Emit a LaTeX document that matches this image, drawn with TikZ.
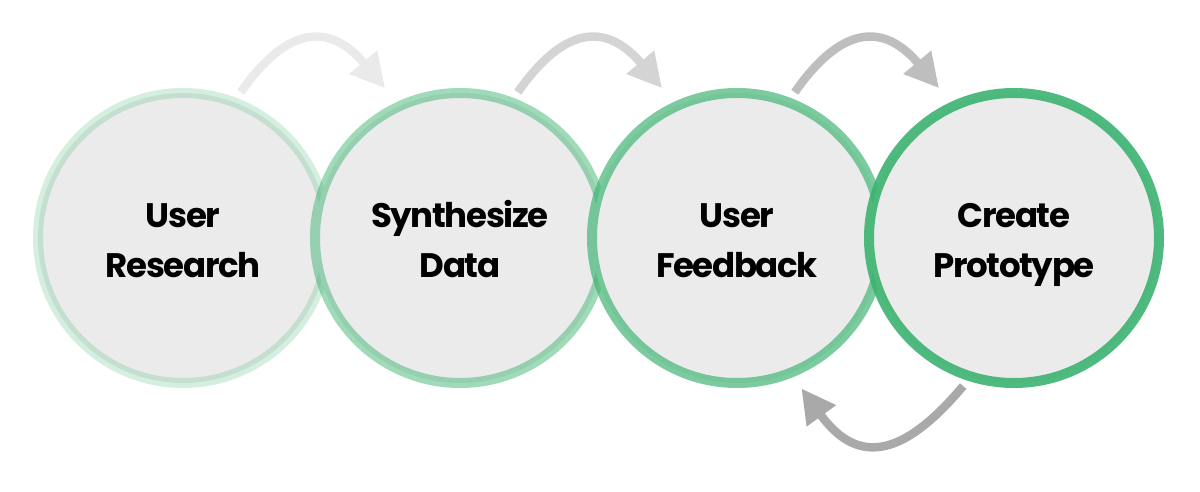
\documentclass[tikz,border=0pt]{standalone}
\usepackage{fontspec}
\setmainfont{Poppins}[LetterSpace=-4]
\usetikzlibrary{positioning,arrows.meta}

\definecolor{ringgreen}{HTML}{3CB371}
\definecolor{disc}{HTML}{EBEBEB}
\definecolor{arrowA}{HTML}{EAEAEA}
\definecolor{arrowB}{HTML}{D4D4D4}
\definecolor{arrowC}{HTML}{BEBEBE}
\definecolor{arrowD}{HTML}{A9A9A9}

\begin{document}
\begin{tikzpicture}[
  x=1pt, y=1pt,
  font=\bfseries\fontsize{34}{50}\selectfont,
  stage/.style={circle, fill=disc, draw=ringgreen, line width=10pt, minimum size=290pt, inner sep=0pt, align=center, text=black, text height=80pt, text depth=2pt},
  flow/.style={-{Triangle[length=34pt, width=34pt]}, line width=8.5pt, shorten <=7pt, shorten >=18pt, looseness=1.55}
]
\useasboundingbox (0,0) rectangle (1200,491);

\node[stage, draw opacity=0.22] (ur) at (183,253) {User\\Research};
\node[stage, draw opacity=0.49, right=-23pt of ur] (sd) {Synthesize\\Data};
\node[stage, draw opacity=0.68, right=-23pt of sd] (uf) {User\\Feedback};
\node[stage, draw opacity=0.90, right=-23pt of uf] (cp) {Create\\Prototype};

\draw[flow, color=arrowA] (ur.69) to[out=55, in=130] (sd.115);
\draw[flow, color=arrowB] (sd.69) to[out=55, in=130] (uf.115);
\draw[flow, color=arrowC] (uf.69) to[out=55, in=130] (cp.115);
\draw[flow, color=arrowD, shorten >=14pt] (cp.-108) to[out=-130, in=-54] (uf.-68);
\end{tikzpicture}
\end{document}
